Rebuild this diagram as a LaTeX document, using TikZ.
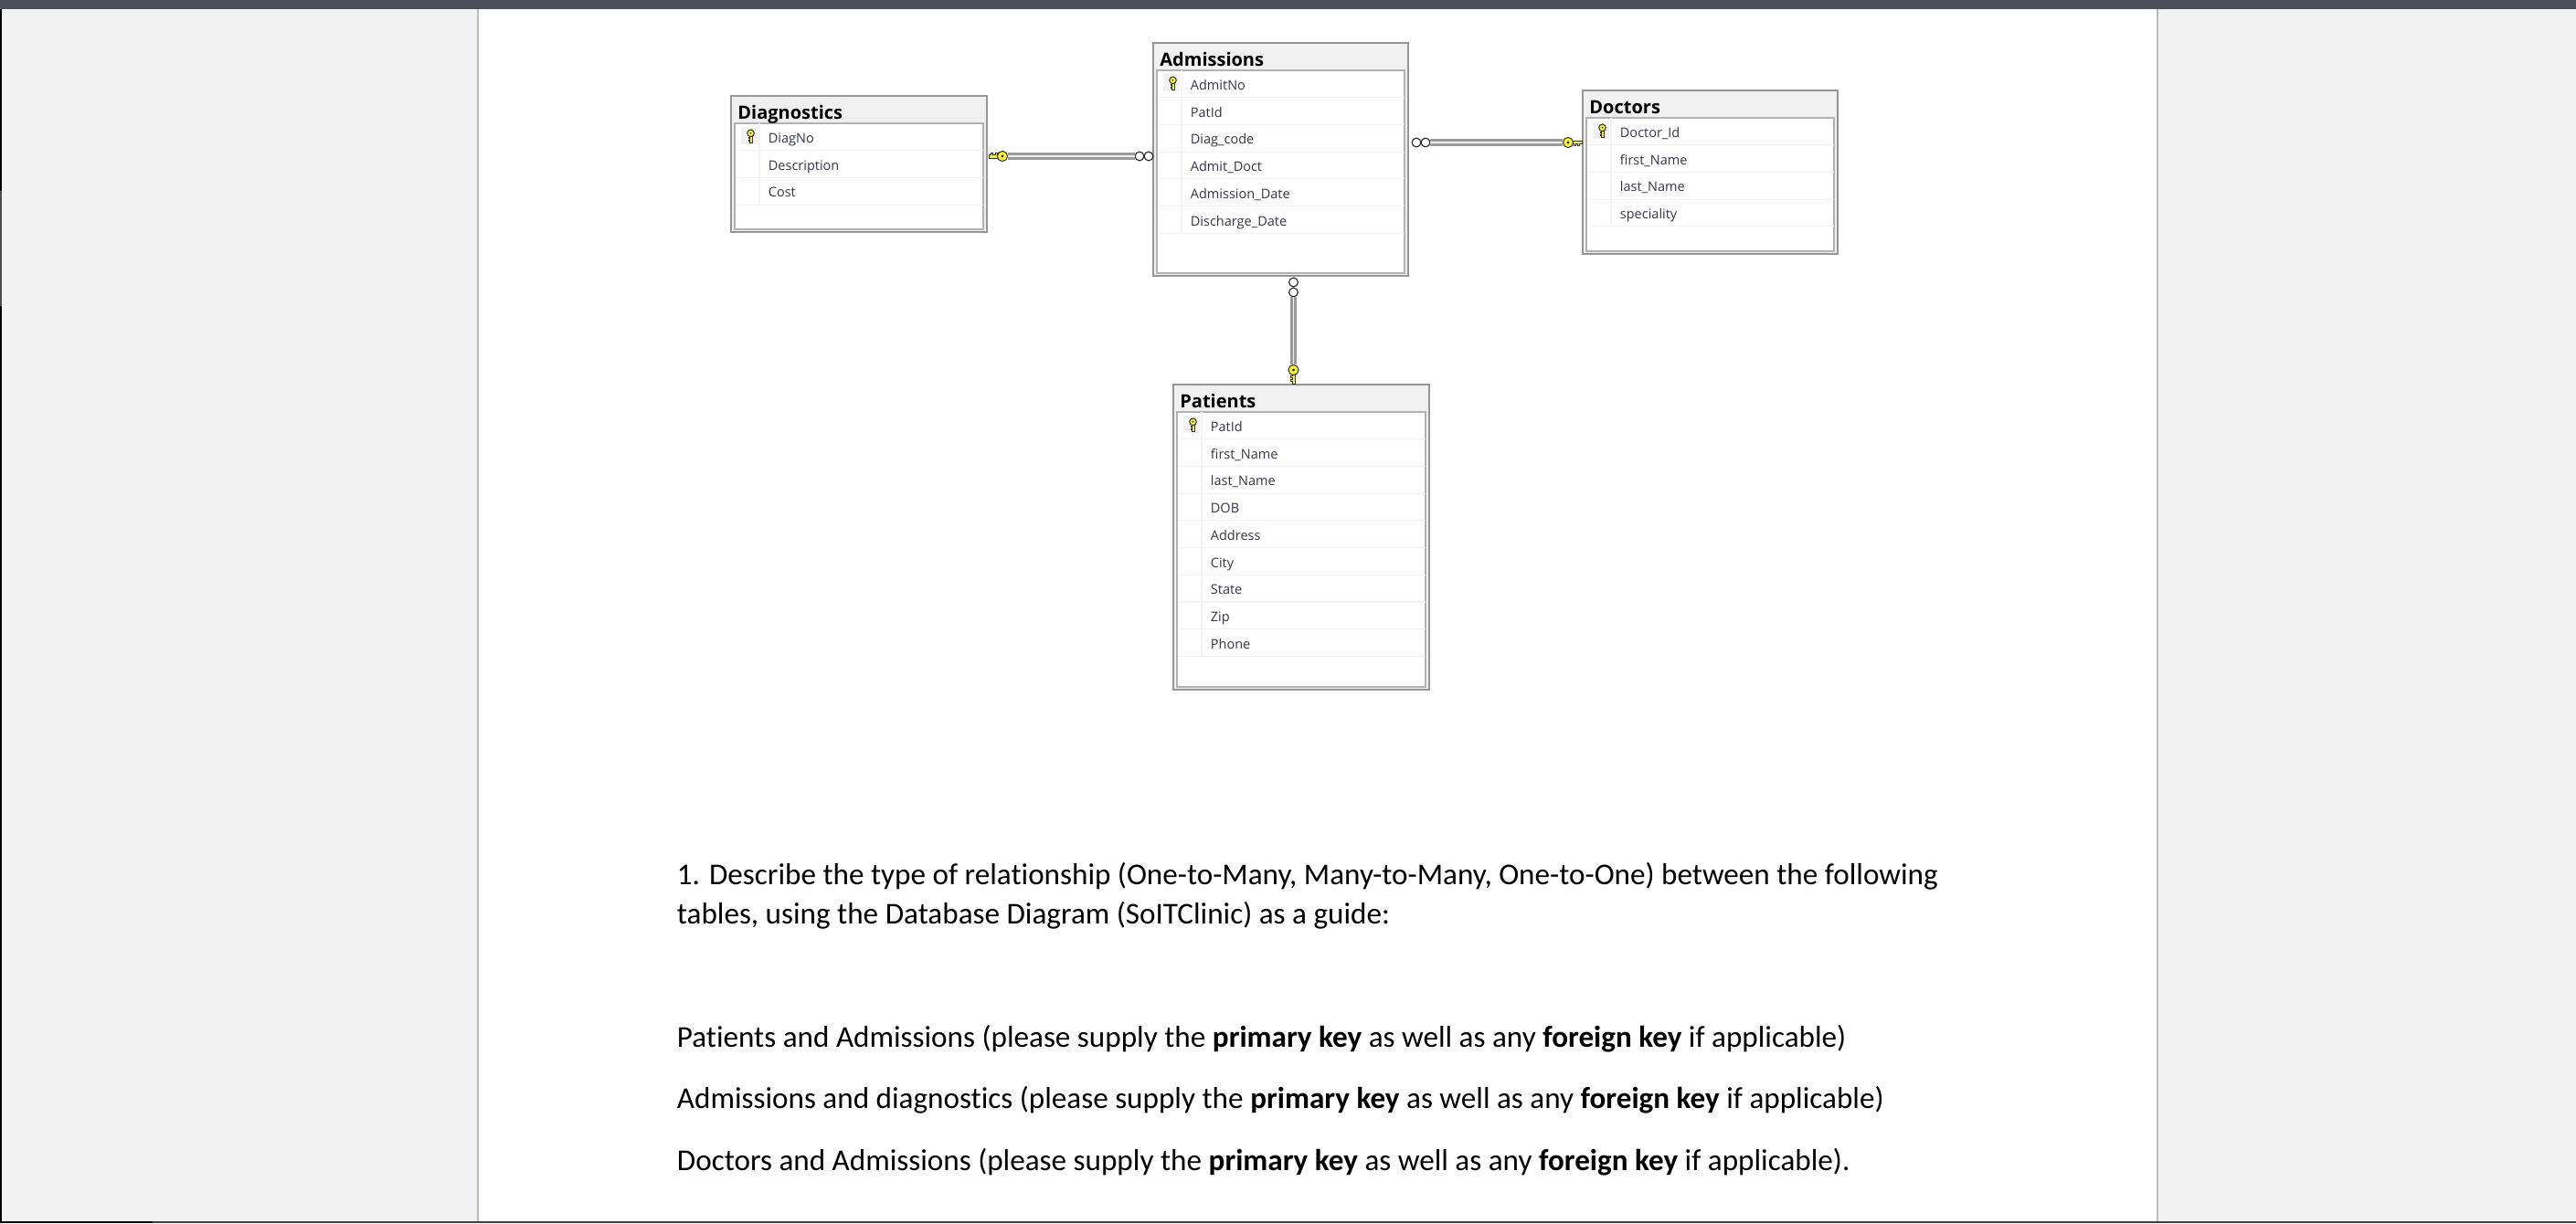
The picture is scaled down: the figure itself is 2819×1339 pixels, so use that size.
\documentclass[tikz,border=0pt]{standalone}
\usepackage{fontspec}
\setmainfont[Ligatures=NoCommon]{Carlito}
\newfontfamily\dbfont{Open Sans}
\usetikzlibrary{calc}
\definecolor{pagegrey}{HTML}{F2F2F2}
\definecolor{topband}{HTML}{474F5B}
\definecolor{pageedge}{HTML}{B8BCC2}
\definecolor{tableedge}{HTML}{969696}
\definecolor{tabletitle}{HTML}{F0F0F0}
\definecolor{rowrule}{HTML}{F3F3F3}
\definecolor{keyyellow}{HTML}{F6F03A}
\definecolor{relgrey}{HTML}{9A9A9A}
\definecolor{rowink}{HTML}{35354A}
\tikzset{
  x=0.5pt,y=-0.5pt,
  tableouter/.style={draw=tableedge,line width=0.8pt,fill=tabletitle,inner sep=0pt,rectangle},
  tableinner/.style={draw=black!30,line width=0.7pt,fill=white},
  rowline/.style={draw=rowrule,line width=0.6pt},
  titletext/.style={anchor=base west,inner sep=0pt,font=\dbfont\bfseries\fontsize{10}{11}\selectfont,text=black},
  rowtext/.style={anchor=base west,inner sep=0pt,font=\dbfont\fontsize{7.25}{9}\selectfont,text=rowink},
  bodytext/.style={anchor=base west,inner sep=0pt,font=\fontsize{16.58}{20}\selectfont,text=black},
  relline/.style={draw=relgrey,line width=1.5pt,double=white!94!black,double distance=0.9pt},
  manyend/.style={circle,draw=black!85,line width=0.55pt,fill=white,minimum size=4.9pt,inner sep=0pt},
  erkey/.pic={
    \fill[keyyellow,draw=black!80,line width=0.35pt] (0,-2) -- (14,-2) -- (14,1.4) -- (11.5,1.4) -- (11.5,3.6) -- (9.5,3.6) -- (9.5,1.4) -- (7,1.4) -- (7,3.6) -- (5,3.6) -- (5,1.4) -- (0,1.4) -- cycle;
    \fill[keyyellow,draw=black!80,line width=0.5pt] (-1,0) circle[radius=5.6];
    \fill[black] (-1,0) circle[radius=1.3];
  },
}
\newcommand{\ertable}[7]{%
  % #1 name, #2-#5 outer box, #6 title, #7 rows
  \node[tableouter,minimum width={(#4-#2)*0.5pt-0.8pt},minimum height={(#5-#3)*0.5pt-0.8pt}] (#1) at ({(#2+#4)/2},{(#3+#5)/2}) {};
  \draw[tableinner] ({#2+5},{#3+31}) rectangle ({#4-5},{#5-4});
  \node[titletext] (#1-title) at ({#2+8},{#3+26.5}) {#6};
  \fill[black!5] ({#2+12},{#3+35}) rectangle ({#2+30},{#3+54});
  \pic[rotate=-90,scale=0.68] at ({#2+22.5},{#3+42.5}) {erkey};
  \foreach \t [count=\i] in {#7} {
    \pgfmathsetmacro{\rowtop}{#3+31+29.7*(\i-1)}
    \node[rowtext] (#1-r\i) at ({#2+41.5},{\rowtop+21.5}) {\t};
    \draw[rowline] ({#2+5.5},{\rowtop+29.7}) -- ({#4-5.5},{\rowtop+29.7});
    \draw[rowline] ({#2+32},{\rowtop}) -- ({#2+32},{\rowtop+29.7});
  }
}
\begin{document}
\begin{tikzpicture}
\useasboundingbox (0,0) rectangle (2819,1339);
% page background
\fill[white] (0,0) rectangle (2819,1339);
\fill[pagegrey] (0,0) rectangle (522,1339);
\fill[pagegrey] (2362,0) rectangle (2819,1339);
\fill[pageedge] (522,10) rectangle (524,1339);
\fill[pageedge] (2360,10) rectangle (2362,1339);
\fill[topband] (0,0) rectangle (2819,10);
\fill[black] (0,10) rectangle (2,1339);
\fill[black!70] (0,209) rectangle (2,335);
\fill[black!75] (0,1337) rectangle (2819,1339);
\fill[black] (0,1337) rectangle (167,1339);
% tables
\ertable{diag}{799}{104}{1081}{255}{Diagnostics}{DiagNo,Description,Cost}
\ertable{adm}{1261}{46}{1542}{303}{Admissions}{AdmitNo,PatId,Diag\_code,Admit\_Doct,Admission\_Date,Discharge\_Date}
\ertable{doc}{1731}{98}{2012}{279}{Doctors}{Doctor\_Id,first\_Name,last\_Name,speciality}
\ertable{pat}{1283}{420}{1565}{756}{Patients}{PatId,first\_Name,last\_Name,DOB,Address,City,State,Zip,Phone}
% relationship ends
\node[manyend] (m1a) at (1247,171) {};
\node[manyend] (m1b) at (1257,171) {};
\node[manyend] (m2a) at (1550,156) {};
\node[manyend] (m2b) at (1560,156) {};
\node[manyend] (m3a) at (1415.5,309) {};
\node[manyend] (m3b) at (1415.5,320) {};
\pic[rotate=180] at (1096,171) {erkey};
\pic[rotate=0] at (1717,156) {erkey};
\pic[rotate=-90] at (1415.5,406) {erkey};
\coordinate (k1) at (1103,171);
\coordinate (k2) at (1710,156);
\coordinate (k3) at (1415.5,399);
% connectors
\draw[relline] (k1) -- (m1a);
\draw[relline] (m2b) -- (k2);
\draw[relline] (m3b) -- (k3);
% body text
\node[bodytext] (l1) at (740.5,968) {1. Describe the type of relationship (One-to-Many, Many-to-Many, One-to-One) between the following};
\node[bodytext] (l2) at (740.5,1011) {tables, using the Database Diagram (SoITClinic) as a guide:};
\node[bodytext] (l3) at (740.5,1146) {Patients and Admissions (please supply the \textbf{primary key} as well as any \textbf{foreign key} if applicable)};
\node[bodytext] (l4) at (740.5,1213.5) {Admissions and diagnostics (please supply the \textbf{primary key} as well as any \textbf{foreign key} if applicable)};
\node[bodytext] (l5) at (740.5,1281) {Doctors and Admissions (please supply the \textbf{primary key} as well as any \textbf{foreign key} if applicable).};
\end{tikzpicture}
\end{document}
